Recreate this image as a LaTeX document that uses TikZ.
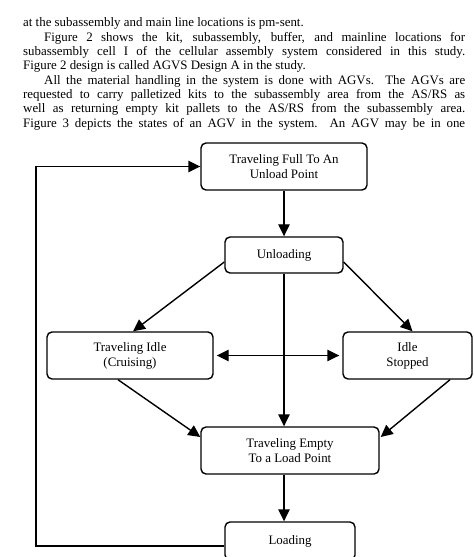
\documentclass[tikz,border=0pt]{standalone}
\usepackage{fontspec}
\setmainfont{Liberation Serif}
\usetikzlibrary{arrows.meta,calc}
\tikzset{
  stbox/.style={draw, line width=1.4bp, rounded corners=5bp, align=center, inner sep=0pt,
    font=\fontsize{12.9bp}{15bp}\selectfont},
  txt/.style={anchor=base west, inner sep=0pt, font=\fontsize{12.9bp}{14.3bp}\selectfont},
  conn/.style={line width=1.4bp, -{Triangle[length=12bp,width=11.5bp]}},
}
\newcommand{\jline}[1]{\makebox[442bp][s]{#1}}
\newcommand{\jlinei}[1]{\makebox[421bp][s]{#1}}
\begin{document}
\begin{tikzpicture}[x=1bp,y=-1bp]
\useasboundingbox[fill=white] (0,0) rectangle (474,557);
\clip (0,0) rectangle (474,557);
% text
\node[txt] (t1) at (23,27) {at the subassembly and main line locations is pm-sent.};
\node[txt] (t2) at (44,41.3) {\jlinei{Figure 2 shows the kit, subassembly, buffer, and mainline locations for}};
\node[txt] (t3) at (23,55.6) {\jline{subassembly cell I of the cellular assembly system considered in this study.}};
\node[txt] (t4) at (23,69.9) {Figure 2 design is called AGVS Design A in the study.};
\node[txt] (t5) at (44,84.2) {\jlinei{All the material handling in the system is done with AGVs. The AGVs are}};
\node[txt] (t6) at (23,98.5) {\jline{requested to carry palletized kits to the subassembly area from the AS/RS as}};
\node[txt] (t7) at (23,112.8) {\jline{well as returning empty kit pallets to the AS/RS from the subassembly area.}};
\node[txt] (t8) at (23,127.1) {\jline{Figure 3 depicts the states of an AGV in the system. An AGV may be in one}};
% boxes
\node[stbox, minimum width=166bp, minimum height=47bp] (A) at (284,166.5) {Traveling Full To An\\Unload Point};
\node[stbox, minimum width=118bp, minimum height=36bp] (B) at (284,255) {Unloading};
\node[stbox, minimum width=166bp, minimum height=47bp] (C) at (130,355.5) {Traveling Idle\\(Cruising)};
\node[stbox, minimum width=129bp, minimum height=47bp] (D) at (407.5,355.5) {Idle\\Stopped};
\node[stbox, minimum width=178bp, minimum height=47bp] (E) at (290,450.5) {Traveling Empty\\To a Load Point};
\node[stbox, minimum width=130bp, minimum height=38bp] (F) at (290,541) {\raisebox{2bp}{Loading}};
\coordinate (L1) at (36,546);
% connectors
\draw[conn] (A.south) -- (B.north);
\draw[conn] ($(B.west)+(0,7)$) -- ($(C.north)+(3,0)$);
\draw[conn] ($(B.east)+(0,7)$) -- ($(D.north)+(5,0)$);
\draw[conn] (B.south) -- (B.south|-E.north);
\draw[line width=1.4bp, {Triangle[length=12bp,width=11.5bp]}-{Triangle[length=12bp,width=11.5bp]}, shorten <=3bp, shorten >=3bp] (C.east) -- (D.west);
\draw[conn] ($(C.south)+(-12,0)$) -- ($(E.west)+(0,-13.5)$);
\draw[conn] ($(D.south)+(42.5,0)$) -- ($(E.east)+(1,-13.5)$);
\draw[conn] (B.south|-E.south) -- (B.south|-F.north);
\draw[conn] (F.west|-L1) -- (L1) |- (A.west);
\end{tikzpicture}
\end{document}
